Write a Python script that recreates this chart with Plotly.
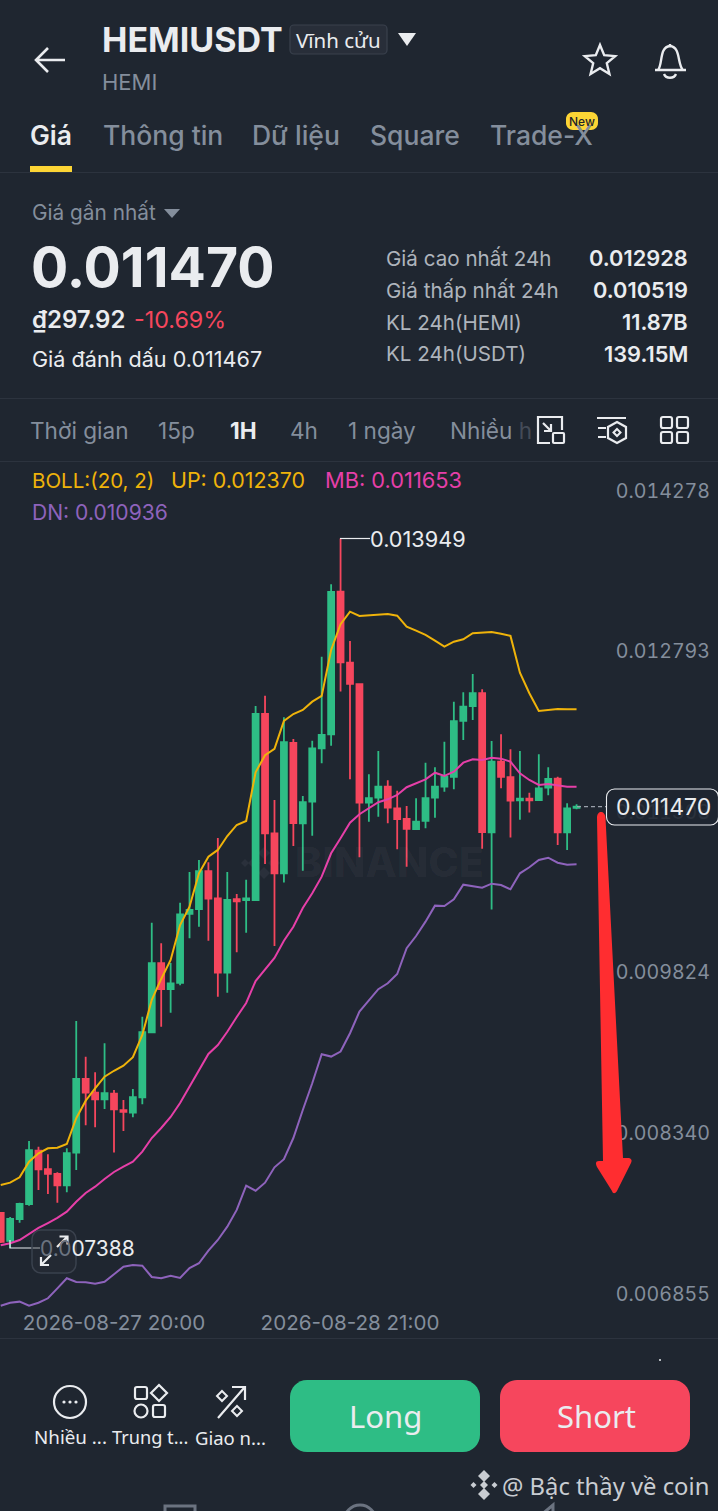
import re
import math
import pandas as pd
import plotly.graph_objects as go

W, H = 718, 1511

# ---------- data ----------
hours = pd.date_range("2026-08-27 08:00", periods=62, freq="h").strftime("%Y-%m-%d %H:%M").tolist()

opens = [0.007712,0.007453,0.007656,0.007795,0.008288,0.008116,0.008073,0.007968,0.008270,0.008951,0.008824,0.008763,
         0.008815,0.008662,0.008640,0.008782,0.009383,0.010021,0.009781,0.009841,0.010477,0.010523,0.010874,0.010622,
         0.009934,0.010613,0.010604,0.010606,0.012326,0.011223,0.010853,0.012058,0.011316,0.011515,0.012009,0.012138,
         0.013457,0.012801,0.012601,0.011506,0.011552,0.011654,0.011454,0.011355,0.011262,0.011337,0.011552,0.011654,
         0.011746,0.012262,0.012400,0.012518,0.011232,0.011885,0.011741,0.011528,0.011543,0.011531,0.011645,0.011728,
         0.011232,0.011458]
highs = [0.007721,0.007675,0.007807,0.008378,0.008325,0.008255,0.008088,0.008310,0.009487,0.009157,0.009013,0.009281,
         0.008849,0.008757,0.008859,0.009527,0.010396,0.010206,0.010024,0.010581,0.010865,0.010976,0.010955,0.011180,
         0.010865,0.010662,0.010794,0.012400,0.012496,0.011531,0.012296,0.012095,0.011568,0.012079,0.012856,0.013526,
         0.013949,0.013002,0.012610,0.011769,0.011984,0.011713,0.011617,0.011476,0.011547,0.011876,0.011833,0.012070,
         0.012440,0.012527,0.012696,0.012555,0.012077,0.012138,0.012000,0.011984,0.011598,0.011954,0.011833,0.011746,
         0.011500,0.011492]
lows = [0.007434,0.007388,0.007622,0.007779,0.007925,0.007888,0.007807,0.007903,0.008110,0.008523,0.008504,0.008674,
        0.008270,0.008470,0.008597,0.008717,0.009381,0.009435,0.009564,0.009818,0.010252,0.010359,0.010230,0.009712,
        0.009749,0.010123,0.010304,0.010597,0.010939,0.010181,0.010767,0.011106,0.010877,0.011201,0.011870,0.012033,
        0.012533,0.011722,0.011001,0.011330,0.011377,0.011316,0.011075,0.010914,0.011259,0.011269,0.011367,0.011608,
        0.011630,0.012086,0.012271,0.011081,0.010519,0.011639,0.011184,0.011348,0.011416,0.011522,0.011575,0.011115,
        0.011069,0.011445]
closes = [0.007444,0.007656,0.007795,0.008294,0.008116,0.008073,0.007968,0.008264,0.008951,0.008824,0.008763,0.008819,
          0.008671,0.008646,0.008782,0.009383,0.010021,0.009781,0.009836,0.010474,0.010514,0.010874,0.010618,0.009934,
          0.010606,0.010594,0.010622,0.012326,0.011223,0.010853,0.012065,0.011318,0.011510,0.012009,0.012132,0.013455,
          0.012804,0.012604,0.011506,0.011547,0.011654,0.011460,0.011355,0.011265,0.011330,0.011547,0.011654,0.011746,
          0.012259,0.012394,0.012518,0.011235,0.011885,0.011746,0.011525,0.011543,0.011528,0.011639,0.011725,0.011232,
          0.011454,0.011470]
boll_up = [0.007971,0.007992,0.008042,0.008186,0.008264,0.008310,0.008316,0.008350,0.008588,0.008750,0.008865,0.008972,
           0.009027,0.009074,0.009152,0.009358,0.009682,0.009876,0.010052,0.010375,0.010544,0.010853,0.011007,0.011069,
           0.011198,0.011300,0.011337,0.011787,0.011945,0.012003,0.012262,0.012326,0.012363,0.012440,0.012493,0.012918,
           0.013156,0.013272,0.013233,0.013239,0.013245,0.013251,0.013235,0.013134,0.013097,0.013057,0.013004,0.012949,
           0.012995,0.013017,0.013073,0.013078,0.013085,0.013069,0.013048,0.012708,0.012518,0.012354,0.012363,0.012372,
           0.012370,0.012370]
boll_mb = [0.007413,0.007432,0.007462,0.007518,0.007573,0.007619,0.007666,0.007724,0.007816,0.007897,0.007955,0.008026,
           0.008091,0.008140,0.008186,0.008279,0.008405,0.008498,0.008600,0.008729,0.008879,0.009034,0.009182,0.009265,
           0.009388,0.009524,0.009654,0.009857,0.009968,0.010070,0.010230,0.010359,0.010532,0.010668,0.010822,0.011038,
           0.011177,0.011321,0.011399,0.011454,0.011510,0.011537,0.011577,0.011649,0.011686,0.011722,0.011783,0.011753,
           0.011793,0.011876,0.011908,0.011901,0.011922,0.011913,0.011885,0.011778,0.011716,0.011670,0.011679,0.011663,
           0.011654,0.011653]
boll_dn = [0.006854,0.006882,0.006892,0.006854,0.006882,0.006923,0.007015,0.007108,0.007074,0.007071,0.007058,0.007076,
           0.007145,0.007215,0.007231,0.007224,0.007120,0.007108,0.007132,0.007111,0.007203,0.007247,0.007363,0.007462,
           0.007585,0.007740,0.007964,0.007918,0.007992,0.008134,0.008209,0.008405,0.008664,0.008911,0.009180,0.009158,
           0.009205,0.009374,0.009574,0.009682,0.009781,0.009836,0.009922,0.010160,0.010273,0.010406,0.010554,0.010551,
           0.010613,0.010748,0.010736,0.010720,0.010757,0.010745,0.010705,0.010853,0.010909,0.010976,0.010997,0.010951,
           0.010933,0.010936]

price_ticks = [0.014278, 0.012793, 0.011308, 0.009824, 0.008340, 0.006855]
price_tick_labels = ["0.014278", "0.012793", "0.011308", "0.009824", "0.008340", "0.006855"]
time_ticks = ["2026-08-27 20:00", "2026-08-28 21:00"]
last_price = 0.011470
high_price = 0.013949
low_price = 0.007388

# ---------- colours ----------
BG = "#1F2630"
GREEN = "#2EBD85"
RED = "#F6465D"
YELLOW = "#EFB30A"
PINK = "#E63FA8"
PURPLE = "#8E63BC"
GRAY = "#848E9C"
WHITE = "#EAECEF"
DIV = "#2C333E"
FONT = "Inter"
FONT2 = "Noto Sans"

# ---------- axis calibration (pixel <-> price) ----------
PX_PER_UNIT = 108139.0
def price_at(y):
    return high_price - (y - 538.5) / PX_PER_UNIT
PLOT_TOP, PLOT_BOTTOM = 462, 1338
t0 = pd.Timestamp("2026-08-27 20:00")
PX_PER_HOUR = 9.44
x_left = (t0 - pd.Timedelta(hours=114 / PX_PER_HOUR)).strftime("%Y-%m-%d %H:%M:%S")
x_right = (t0 + pd.Timedelta(hours=(W - 114) / PX_PER_HOUR)).strftime("%Y-%m-%d %H:%M:%S")

# ---------- helpers ----------
def xp(x): return x / W
def yp(y): return 1 - y / H

def conv(path):
    return re.sub(r"(-?\d+\.?\d*),(-?\d+\.?\d*)",
                  lambda m: f"{xp(float(m.group(1))):.5f},{yp(float(m.group(2))):.5f}", path)

shapes, annos = [], []

def path(d, line=None, fill=None, width=2.0, layer="above"):
    shapes.append(dict(type="path", xref="paper", yref="paper", path=conv(d), layer=layer,
                       line=dict(color=line or "rgba(0,0,0,0)", width=width if line else 0),
                       fillcolor=fill or "rgba(0,0,0,0)"))

def rrect(x0, y0, x1, y1, r):
    k = r * 0.45
    return (f"M{x0+r},{y0} L{x1-r},{y0} C{x1-k},{y0} {x1},{y0+k} {x1},{y0+r} L{x1},{y1-r} "
            f"C{x1},{y1-k} {x1-k},{y1} {x1-r},{y1} L{x0+r},{y1} C{x0+k},{y1} {x0},{y1-k} {x0},{y1-r} "
            f"L{x0},{y0+r} C{x0},{y0+k} {x0+k},{y0} {x0+r},{y0} Z")

def circle(cx, cy, r, line=None, fill=None, width=2.0):
    shapes.append(dict(type="circle", xref="paper", yref="paper", layer="above",
                       x0=xp(cx - r), x1=xp(cx + r), y0=yp(cy + r), y1=yp(cy - r),
                       line=dict(color=line or "rgba(0,0,0,0)", width=width if line else 0),
                       fillcolor=fill or "rgba(0,0,0,0)"))

def rect(x0, y0, x1, y1, fill):
    path(f"M{x0},{y0} L{x1},{y0} L{x1},{y1} L{x0},{y1} Z", fill=fill)

def T(x, y, text, size, color=WHITE, anchor="left", weight=400, family=FONT):
    dx = {"left": -1, "right": 1, "center": 0}[anchor]
    annos.append(dict(xref="paper", yref="paper", x=xp(x + dx), y=yp(y), text=text, showarrow=False,
                      xanchor=anchor, yanchor="middle", borderpad=0,
                      font=dict(size=size, color=color, family=family, weight=weight)))

def diamond(cx, cy, r, **kw):
    path(f"M{cx},{cy-r} L{cx+r},{cy} L{cx},{cy+r} L{cx-r},{cy} Z", **kw)

# ---------- header ----------
path("M65,60 L37,60 M48,48 L36,60 L48,72", line="#EAECEF", width=2.6)
T(102, 40, "HEMIUSDT", 34, WHITE, weight=700)
path(rrect(290, 25, 387, 54, 4), line="#3A414D", fill="#282E39", width=1.2)
T(338.5, 40, "Vĩnh cửu", 20.5, WHITE, "center", family=FONT2)
path("M398,33 L416,33 L407,46 Z", fill=WHITE)
T(102, 82, "HEMI", 22, GRAY)
pts = []
for k in range(10):
    r_ = 16 if k % 2 == 0 else 7.2
    a = -math.pi / 2 + k * math.pi / 5
    pts.append(f"{600 + r_ * math.cos(a):.1f},{61 + r_ * math.sin(a):.1f}")
path("M" + " L".join(pts) + " Z", line=WHITE, width=2.4)
path("M658,70 C663,64 659,47 670,46 C681,47 677,64 683,70 Z M655,70 L686,70 M664,74 C666,79 674,79 676,74", line=WHITE, width=2.4)
path("M670,46 L670,44", line=WHITE, width=2.4)

tabs = [(30, "Giá", WHITE, 600), (103, "Thông tin", GRAY, 500), (252, "Dữ liệu", GRAY, 500),
        (370, "Square", GRAY, 500), (490, "Trade-X", GRAY, 500)]
for x, s, c, w in tabs:
    T(x, 135, s, 26.5, c, weight=w)
path(rrect(566, 112, 598, 130, 7), fill="#FCD535")
T(582, 121, "New", 12, "#1E2329", "center", weight=500)
rect(30, 166, 72, 172, "#FCD535")
rect(0, 172, W, 173, DIV)

# ---------- price block ----------
T(32, 212, "Giá gần nhất", 20.8, GRAY)
path("M164,209 L180,209 L172,218 Z", fill=GRAY)
T(31, 266, "0.011470", 55.3, WHITE, weight=700)
T(32, 320, "₫297.92", 24, WHITE, weight=600)
T(134, 320, "-10.69%", 23.3, RED)
T(32, 359, "Giá đánh dấu 0.011467", 21.6, WHITE)
stats = [(258, "Giá cao nhất 24h", "0.012928"), (290, "Giá thấp nhất 24h", "0.010519"),
         (322, "KL 24h(HEMI)", "11.87B"), (354, "KL 24h(USDT)", "139.15M")]
for y, a, b in stats:
    T(386, y, a, 20.6, "#AEB4BC")
    T(688, y, b, 21.8, WHITE, "right", weight=600)
rect(0, 398, W, 399, DIV)

# ---------- interval row ----------
for x, s, c, w in [(30, "Thời gian", GRAY, 400), (158, "15p", GRAY, 400), (230, "1H", WHITE, 700),
                   (290, "4h", GRAY, 400), (348, "1 ngày", GRAY, 400),
                   (450, "Nhiều <span style='color:#444B57'>h</span>", GRAY, 400)]:
    T(x, 430, s, 22.6, c, weight=w)
path("M562,430 L562,417 L538,417 L538,443 L550,443 M543,423 L551,431 M551,424 L551,431 L544,431", line=WHITE, width=2.2)
path(rrect(553, 433, 564, 443, 1), line=WHITE, width=2.2)
path("M597,418 L626,418 M598,428 L606,428 M598,437 L606,437", line=WHITE, width=2.2)
path("M617,422 L626,427 L626,438 L617,443 L608,438 L608,427 Z", line=WHITE, width=2.2)
diamond(617, 432.5, 3.5, line=WHITE, width=2)
for x0, y0 in [(661, 417), (677, 417), (661, 432), (677, 432)]:
    path(rrect(x0, y0, x0 + 11, y0 + 11, 2), line=WHITE, width=2.2)
rect(0, 461, W, 462, DIV)

# ---------- legend ----------
T(32, 480, "BOLL:(20, 2)", 20.5, YELLOW)
T(171, 480, "UP: 0.012370", 21.4, YELLOW)
T(325, 480, "MB: 0.011653", 21.8, PINK)
T(32, 512, "DN: 0.010936", 21.1, PURPLE)

# ---------- watermark ----------
WM = "#2A303B"
for cx, cy, r in [(264, 853, 6), (254, 863, 6), (274, 863, 6), (264, 873, 6), (245, 863, 4)]:
    diamond(cx, cy, r, fill=WM, layer="below")
T(389, 862, "BINANCE", 41, "rgba(255,255,255,0.04)", "center", weight=800)

# ---------- high / low / last markers ----------
path("M340,538.5 L370,538.5", line=WHITE, width=1.2)
T(370, 538.5, f"{high_price:.6f}", 21.7, WHITE)
path("M10,1240 L10,1248 L40,1248", line=WHITE, width=1.2)
T(40, 1248, "<span style='color:#6B7380'>0.0</span>07388", 21, WHITE)

# expand button
path(rrect(32, 1230, 76, 1273, 9), line="#3A414D", fill="rgba(42,48,58,0.35)", width=1.5)
path("M57,1247 L67,1237 M59.5,1236.5 L67.5,1236.5 L67.5,1244.5", line=WHITE, width=2.2)
path("M51,1255 L41,1265 M41,1257 L41,1265 L49,1265", line=WHITE, width=2.2)

# last-price box
path(rrect(606.5, 789, 718.5, 825, 8), line=WHITE, fill="rgba(31,38,48,0.88)", width=1.1)
T(663.5, 807, f"{last_price:.6f}", 23, WHITE, "center")
shapes.append(dict(type="line", xref="paper", yref="y", x0=xp(577), x1=xp(606), y0=last_price, y1=last_price,
                   layer="above", line=dict(color="#9AA1AB", width=1.1, dash="4px,3px")))

# red arrow
path("M597,818 C597,810 605,810 605.5,818 L623,1158 L629,1158 C632,1159 632,1161 631,1163 L617,1191 "
     "C615,1194 613,1194 612,1191 L597,1167 C595,1163 596,1161 599,1161 L603,1161 Z", fill="#FF2D30")

# ---------- bottom bar ----------
rect(0, 1338, W, 1339, DIV)
circle(660, 1360, 1, fill=WHITE)
circle(70, 1402, 16, line=WHITE, width=2.2)
for dx in (-6, 0, 6):
    circle(70 + dx, 1402, 1.6, fill=WHITE)
path(rrect(135, 1387, 147, 1399, 2), line=WHITE, width=2.2)
diamond(159, 1393, 8, line=WHITE, width=2.2)
circle(141, 1411, 6.5, line=WHITE, width=2.2)
path(rrect(153, 1405, 165, 1417, 2), line=WHITE, width=2.2)
path("M218,1418 L244,1388 M232,1387 L245,1387 L245,1400", line=WHITE, width=2.2)
diamond(222, 1396, 5, line=WHITE, width=2)
diamond(237, 1411, 5, line=WHITE, width=2)
T(70, 1437, "Nhiều ...", 18.8, WHITE, "center", family=FONT2)
T(150, 1437, "Trung t...", 18.2, WHITE, "center", family=FONT2)
T(230, 1437, "Giao n...", 18.5, WHITE, "center", family=FONT2)
path(rrect(290, 1380, 480, 1452, 17), fill="#2EBD85")
path(rrect(500, 1380, 690, 1452, 17), fill=RED)
T(385, 1416, "Long", 31, WHITE, "center", family=FONT2)
T(596, 1416, "Short", 31, WHITE, "center", family=FONT2)
WMK = "#C9CDD2"
for cx, cy, r in [(484, 1476, 6), (484, 1494, 6), (473.5, 1485, 3), (494.5, 1485, 3), (484, 1485, 4)]:
    diamond(cx, cy, r, fill=WMK)
T(709, 1486, "@ Bậc thầy về coin", 23.8, WMK, "right", family=FONT2)
NAV = "#6B7380"
path("M165,1520 L165,1506 L195,1506 L195,1520", line=NAV, width=3)
circle(360, 1521, 16, line=NAV, width=3)
path("M553,1520 L553,1505 L535,1520", line=NAV, width=3)

# ---------- figure ----------
fig = go.Figure()
fig.add_trace(go.Candlestick(
    x=hours, open=opens, high=highs, low=lows, close=closes, name="HEMIUSDT",
    increasing=dict(line=dict(color=GREEN, width=1.8), fillcolor=GREEN),
    decreasing=dict(line=dict(color=RED, width=1.8), fillcolor=RED),
    whiskerwidth=0, hoverinfo="skip", showlegend=False))
for name, vals, col in [("UP", boll_up, YELLOW), ("MB", boll_mb, PINK), ("DN", boll_dn, PURPLE)]:
    fig.add_trace(go.Scatter(x=hours, y=vals, mode="lines", name=name,
                             line=dict(color=col, width=2), hoverinfo="skip", showlegend=False))

fig.update_layout(
    width=W, height=H, autosize=False, margin=dict(l=0, r=0, t=0, b=0),
    paper_bgcolor=BG, plot_bgcolor=BG, showlegend=False, boxgap=0.1, boxgroupgap=0.3,
    font=dict(family=FONT, color=WHITE),
    shapes=shapes, annotations=annos,
    xaxis=dict(type="date", range=[x_left, x_right], domain=[0, 1], anchor="y",
               rangeslider=dict(visible=False), showgrid=False, zeroline=False, showline=False,
               tickmode="array", tickvals=time_ticks, ticktext=time_ticks, ticks="",
               ticklabelposition="inside", ticklabelstandoff=1, tickfont=dict(size=20.6, color=GRAY, family=FONT)),
    yaxis=dict(range=[price_at(PLOT_BOTTOM), price_at(PLOT_TOP)], anchor="x", side="right",
               domain=[1 - PLOT_BOTTOM / H, 1 - PLOT_TOP / H], showgrid=False, zeroline=False, showline=False,
               tickmode="array", tickvals=price_ticks, ticktext=price_tick_labels, ticks="",
               ticklabelposition="inside", ticklabelshift=-12, ticklabelstandoff=5,
               tickfont=dict(size=19.6, color=GRAY, family=FONT)),
)

fig.write_html("out.html", config=dict(displayModeBar=False),
               post_script="document.body.style.margin='0';document.body.style.overflow='hidden';"
                           "document.body.style.background='#1F2630';"
                           "document.querySelectorAll('.ytick text').forEach(function(e){e.style.fontFeatureSettings='\"tnum\"';});")
